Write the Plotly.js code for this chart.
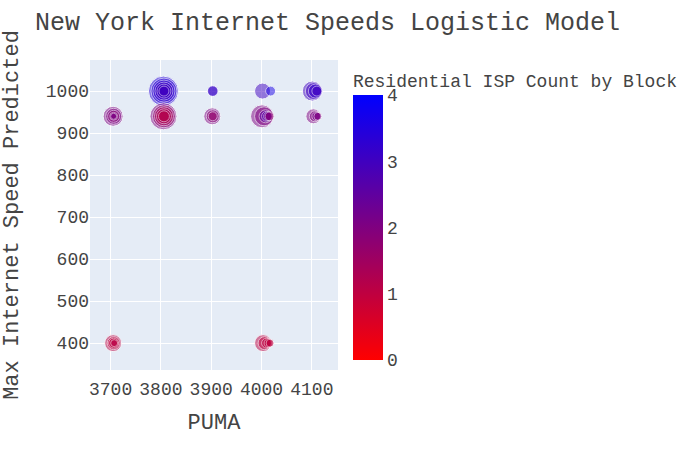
<!DOCTYPE html>
<html>
<head>
<meta charset="utf-8">
<script src="https://cdn.plot.ly/plotly-3.0.1.min.js"></script>
<style>html,body{margin:0;padding:0;background:#fff;}#chart{width:700px;height:450px;}</style>
</head>
<body>
<div id="chart"></div>
<script>
// PUMA code of each block group
const puma = [
  3705, 3706, 3706, 3706, 3706,
  3705, 3706, 3706, 3707,
  3805, 3806, 3806, 3806, 3806, 3806,
  3805, 3806, 3806, 3806, 3806,
  3903, 3903,
  3902, 3903, 3903,
  4002, 4018,
  4001, 4005, 4008, 4010, 4013, 4016,
  4003, 4006, 4010, 4014, 4017,
  4101, 4104, 4107, 4110,
  4103, 4106, 4109, 4112
];
// predicted max internet speed (Mbps)
const speed = [
  940, 940, 940, 940, 940,
  400, 400, 400, 400,
  1000, 1000, 1000, 1000, 1000, 1000,
  940, 940, 940, 940, 940,
  1000, 1000,
  940, 940, 940,
  1000, 1000,
  940, 940, 940, 940, 940, 940,
  400, 400, 400, 400, 400,
  1000, 1000, 1000, 1000,
  940, 940, 940, 940
];
// residential ISP count by block
const ispCount = [
  2.0, 2.0, 1.8, 2.2, 2.0,
  1.0, 1.0, 1.0, 1.1,
  3.4, 3.3, 3.2, 3.0, 3.0, 3.0,
  2.0, 1.6, 1.3, 1.2, 1.1,
  3.0, 3.2,
  2.0, 1.8, 1.6,
  3.0, 3.6,
  2.0, 2.0, 2.6, 2.8, 2.0, 1.8,
  1.0, 1.0, 1.0, 1.0, 1.0,
  3.0, 3.0, 3.2, 3.0,
  2.0, 2.0, 2.2, 2.0
];
// number of blocks (bubble size)
const blockCount = [
  20, 16, 12, 8, 6,
  17, 13, 10, 7,
  30, 26, 22, 18, 14, 10,
  27, 23, 19, 15, 11,
  10, 11,
  17, 13, 9,
  16, 10,
  23, 19, 13, 10, 9, 9,
  17, 13, 10, 9, 8,
  20, 17, 14, 10,
  15, 11, 9, 8
];
const xTicks = [3700, 3800, 3900, 4000, 4100];
const yTicks = [400, 500, 600, 700, 800, 900, 1000];
const cbTicks = [0, 1, 2, 3, 4];

const FONT = '"Liberation Mono", "Courier New", monospace';
const TXT = '#444';

const trace = {
  type: 'scatter',
  mode: 'markers',
  x: puma,
  y: speed,
  marker: {
    size: blockCount,
    sizemode: 'diameter',
    color: ispCount,
    cmin: 0,
    cmax: 4,
    colorscale: [[0, 'rgb(255,0,0)'], [1, 'rgb(0,0,255)']],
    opacity: 0.5,
    line: {color: 'white', width: 1},
    showscale: true,
    colorbar: {
      title: {text: 'Residential ISP Count by Block', side: 'top', font: {size: 18, family: FONT, color: TXT}},
      tickvals: cbTicks,
      tickfont: {size: 18, family: FONT, color: TXT},
      thickness: 30,
      outlinewidth: 0,
      ticks: ''
    }
  },
  hoverinfo: 'x+y'
};

const layout = {
  width: 700,
  height: 450,
  font: {family: FONT, size: 18, color: TXT},
  title: {text: 'New York Internet Speeds Logistic Model', x: 0.05, xanchor: 'left', font: {size: 25, family: FONT, color: TXT}},
  paper_bgcolor: '#fff',
  plot_bgcolor: '#E5ECF6',
  margin: {l: 90, r: 362, t: 60, b: 80, autoexpand: false},
  xaxis: {
    title: {text: 'PUMA', font: {size: 22, family: FONT, color: TXT}, standoff: 14},
    range: [3659, 4152],
    tickvals: xTicks,
    gridcolor: 'white',
    zeroline: false,
    tickfont: {size: 18, color: TXT},
    ticklabelstandoff: 6,
    automargin: false
  },
  yaxis: {
    title: {text: 'Max Internet Speed Predicted', font: {size: 22, family: FONT, color: TXT}, standoff: 26},
    range: [336, 1074],
    tickvals: yTicks,
    gridcolor: 'white',
    zeroline: false,
    tickfont: {size: 18, color: TXT},
    automargin: false
  },
  showlegend: false
};

Plotly.newPlot('chart', [trace], layout, {displayModeBar: false});
</script>
</body>
</html>
